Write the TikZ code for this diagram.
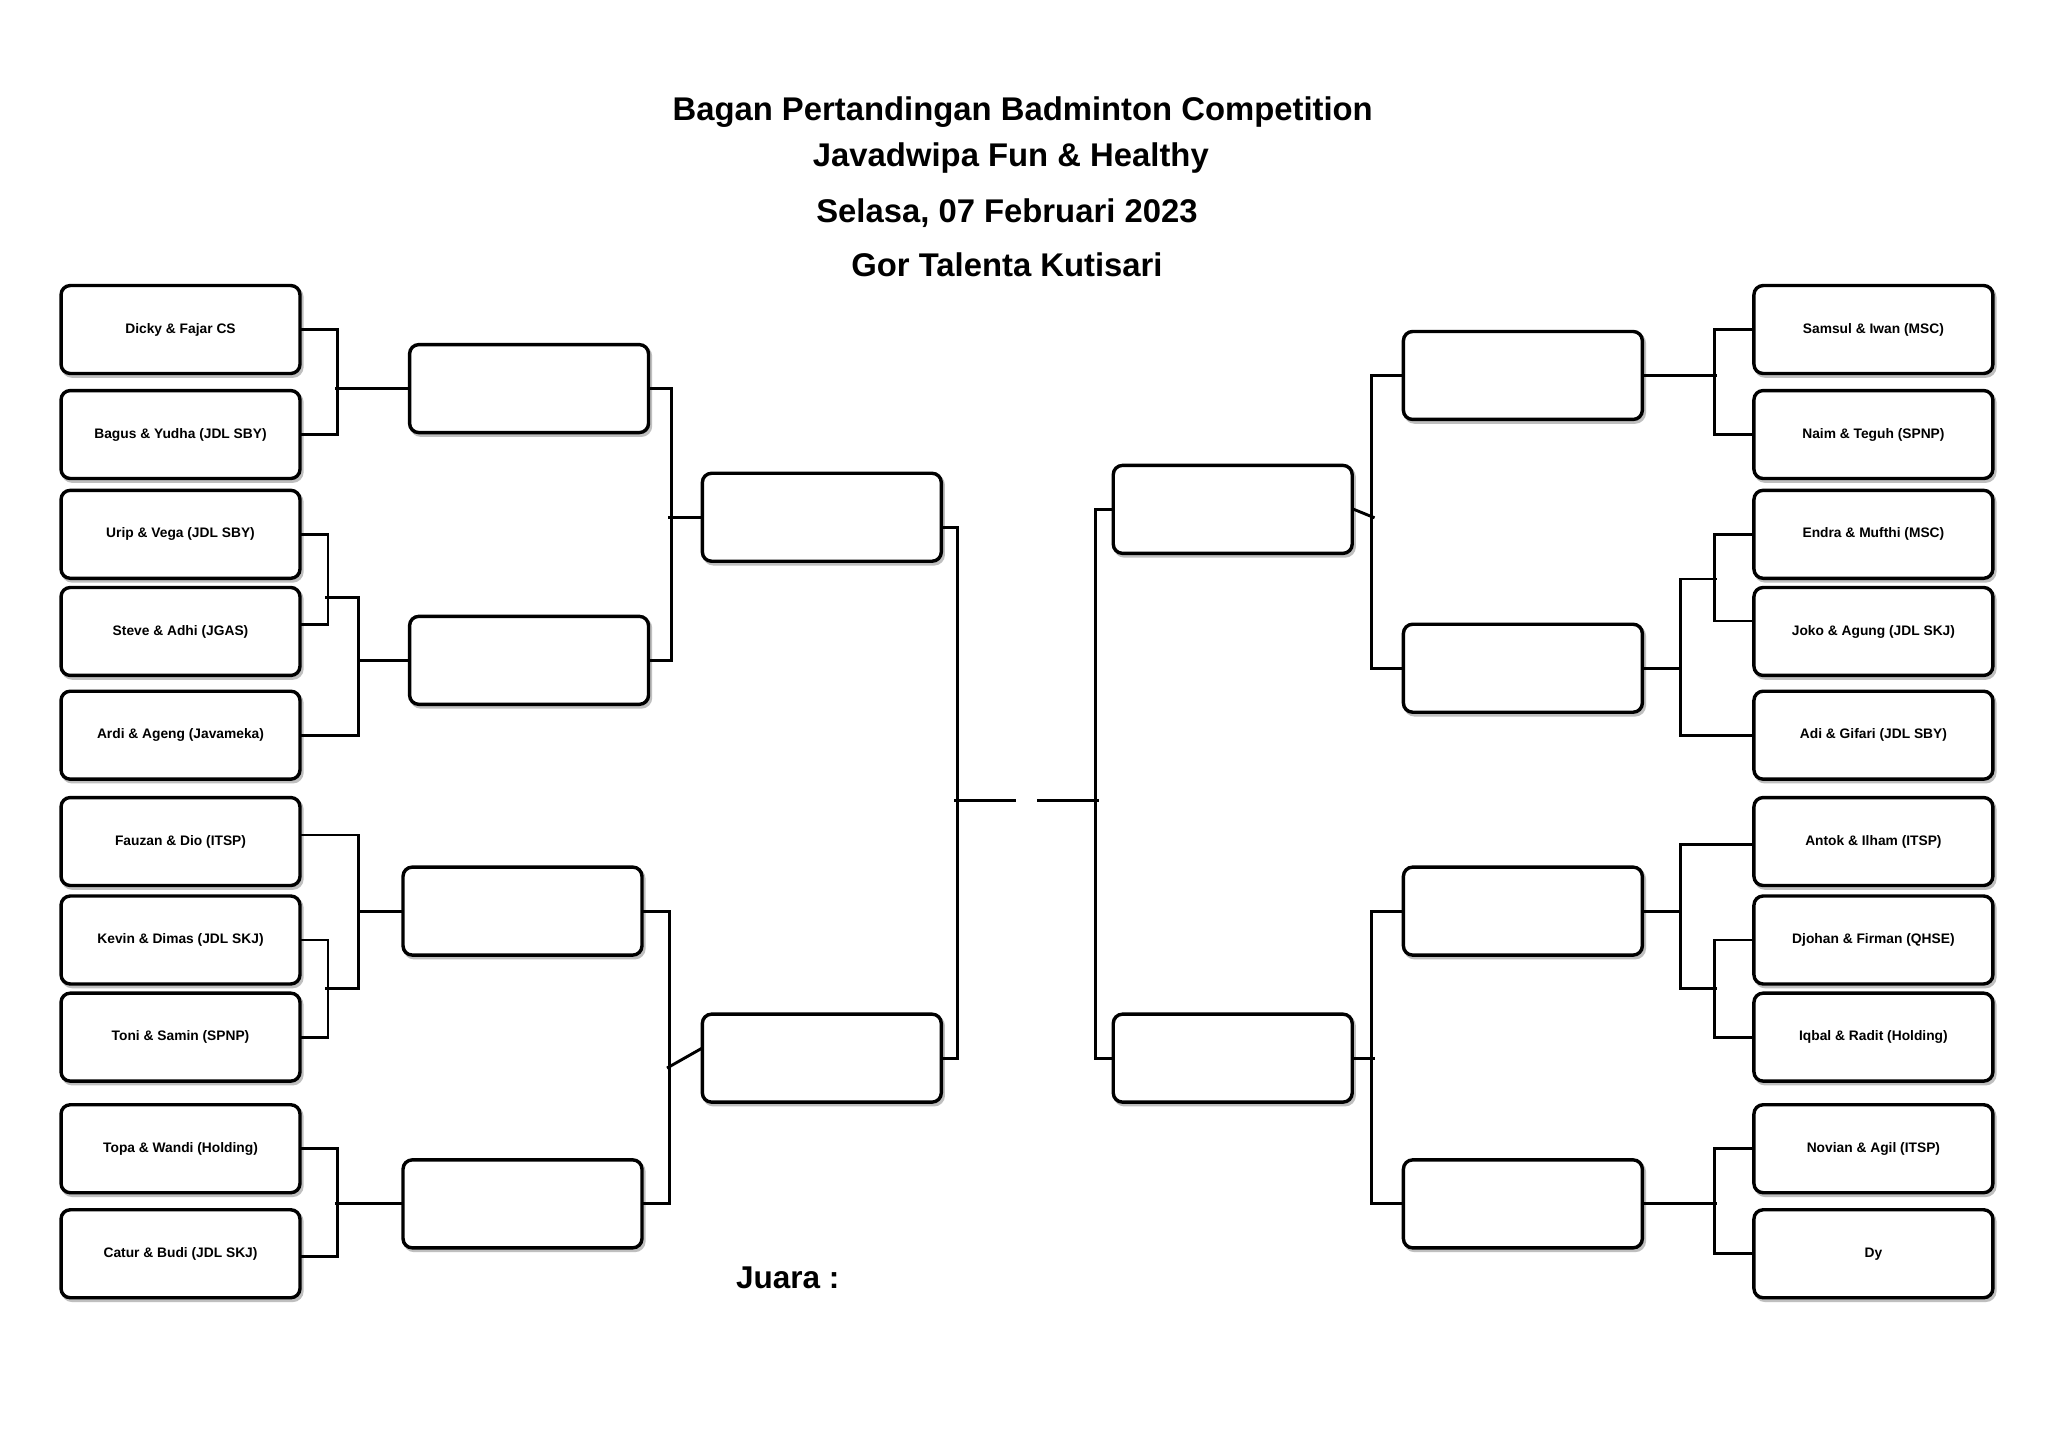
\documentclass[tikz,border=0pt]{standalone}
\usepackage{fontspec}
\setmainfont{Liberation Sans}
\begin{document}
\begin{tikzpicture}[x=1pt,y=-1pt,
  bx/.style={draw=black,line width=2.6pt,rounded corners=7pt,fill=white,minimum width=182pt,minimum height=67pt,inner sep=0pt,font=\bfseries\fontsize{10.5}{12}\selectfont,
    preaction={draw=black!25,line width=2.6pt,rounded corners=7pt,transform canvas={xshift=1.5pt,yshift=-2pt}}},
  ln/.style={line width=2.2pt,line cap=rect},
  tt/.style={font=\bfseries\fontsize{25}{28}\selectfont}]
\useasboundingbox (0,0) rectangle (1560,1105);
\fill[white] (0,0) rectangle (1560,1105);
\node[tt] (t1) at (779,85) {Bagan Pertandingan Badminton Competition};
\node[tt] (t2) at (770,120) {Javadwipa Fun \& Healthy};
\node[tt] (t3) at (767,162) {Selasa, 07 Februari 2023};
\node[tt] (t4) at (767,202) {Gor Talenta Kutisari};
\node[tt,font=\bfseries\fontsize{24}{28}\selectfont] (ju) at (600,973) {Juara :};
% left teams
\foreach \n/\y/\t in {L1/251/Dicky \& Fajar CS,L2/331/Bagus \& Yudha (JDL SBY),L3/407/Urip \& Vega (JDL SBY),L4/481/Steve \& Adhi (JGAS),L5/560/Ardi \& Ageng (Javameka),L6/641/Fauzan \& Dio (ITSP),L7/716/Kevin \& Dimas (JDL SKJ),L8/790/Toni \& Samin (SPNP),L9/875/Topa \& Wandi (Holding),L10/955/Catur \& Budi (JDL SKJ)}
  \node[bx] (\n) at (137.5,\y) {\t};
\foreach \n/\y/\t in {R1/251/Samsul \& Iwan (MSC),R2/331/Naim \& Teguh (SPNP),R3/407/Endra \& Mufthi (MSC),R4/481/Joko \& Agung (JDL SKJ),R5/560/Adi \& Gifari (JDL SBY),R6/641/Antok \& Ilham (ITSP),R7/716/Djohan \& Firman (QHSE),R8/790/Iqbal \& Radit (Holding),R9/875/Novian \& Agil (ITSP),R10/955/Dy}
  \node[bx] (\n) at (1427,\y) {\t};
\node[bx] (LA) at (403,296) {};
\node[bx] (LB) at (403,503) {};
\node[bx] (LC) at (398,694) {};
\node[bx] (LD) at (398,917) {};
\node[bx] (LE) at (626,394) {};
\node[bx] (LF) at (626,806) {};
\node[bx] (RE) at (939,388) {};
\node[bx] (RF) at (939,806) {};
\node[bx] (RA) at (1160,286) {};
\node[bx] (RB) at (1160,509) {};
\node[bx] (RC) at (1160,694) {};
\node[bx] (RD) at (1160,917) {};
% left connectors
\draw[ln] (L1.east) -- ++(27,0) |- (L2.east);
\draw[ln] (256,296) -- (LA.west);
\draw[ln] (L3.east) -- ++(20,0) |- ([yshift=5pt]L4.east);
\draw[ln] (249,455) -| (273,560) -- (L5.east);
\draw[ln] (273,503) -- (LB.west);
\draw[ln] (LA.east) -- ++(16,0) |- (LB.east);
\draw[ln] (510,394) -- (LE.west);
\draw[ln] ([yshift=5pt]L6.east) -| (273,753) -- (249,753);
\draw[ln] (L7.east) -- ++(20,0) |- (L8.east);
\draw[ln] (273,694) -- (LC.west);
\draw[ln] (L9.east) -- ++(27,0) |- ([yshift=-2pt]L10.east);
\draw[ln] (256,917) -- (LD.west);
\draw[ln] (LC.east) -- ++(20,0) |- (LD.east);
\draw[ln] (509,813) -- ([yshift=7pt]LF.west);
\draw[ln] ([yshift=-8pt]LE.east) -- ++(11,0) |- (LF.east);
\coordinate (m1) at (773,610);
\coordinate (m2) at (791,610);
\draw[ln] (728,610) -- (m1);
% right
\draw[ln] (m2) -- (836,610);
\draw[ln] (RE.west) -- ++(-12,0) |- (RF.west);
\draw[ln] (RE.east) -- (1046,394);
\draw[ln] (RA.west) -- ++(-23,0) |- (RB.west);
\draw[ln] (RF.east) -- (1046,806);
\draw[ln] (RC.west) -- ++(-23,0) |- (RD.west);
\draw[ln] (R1.west) -- ++(-29,0) |- (R2.west);
\draw[ln] (RA.east) -- (1307,286);
\draw[ln] (R3.west) -- ++(-29,0) |- ([yshift=8pt]R4.west);
\draw[ln] (1307,441) -| (1280,560) -- (R5.west);
\draw[ln] (RB.east) -- (1280,509);
\draw[ln] ([yshift=-2pt]R6.west) -| (1280,753) -- (1307,753);
\draw[ln] (R7.west) -- ++(-29,0) |- (R8.west);
\draw[ln] (RC.east) -- (1280,694);
\draw[ln] (R9.west) -- ++(-29,0) |- (R10.west);
\draw[ln] (RD.east) -- (1307,917);
\end{tikzpicture}
\end{document}
